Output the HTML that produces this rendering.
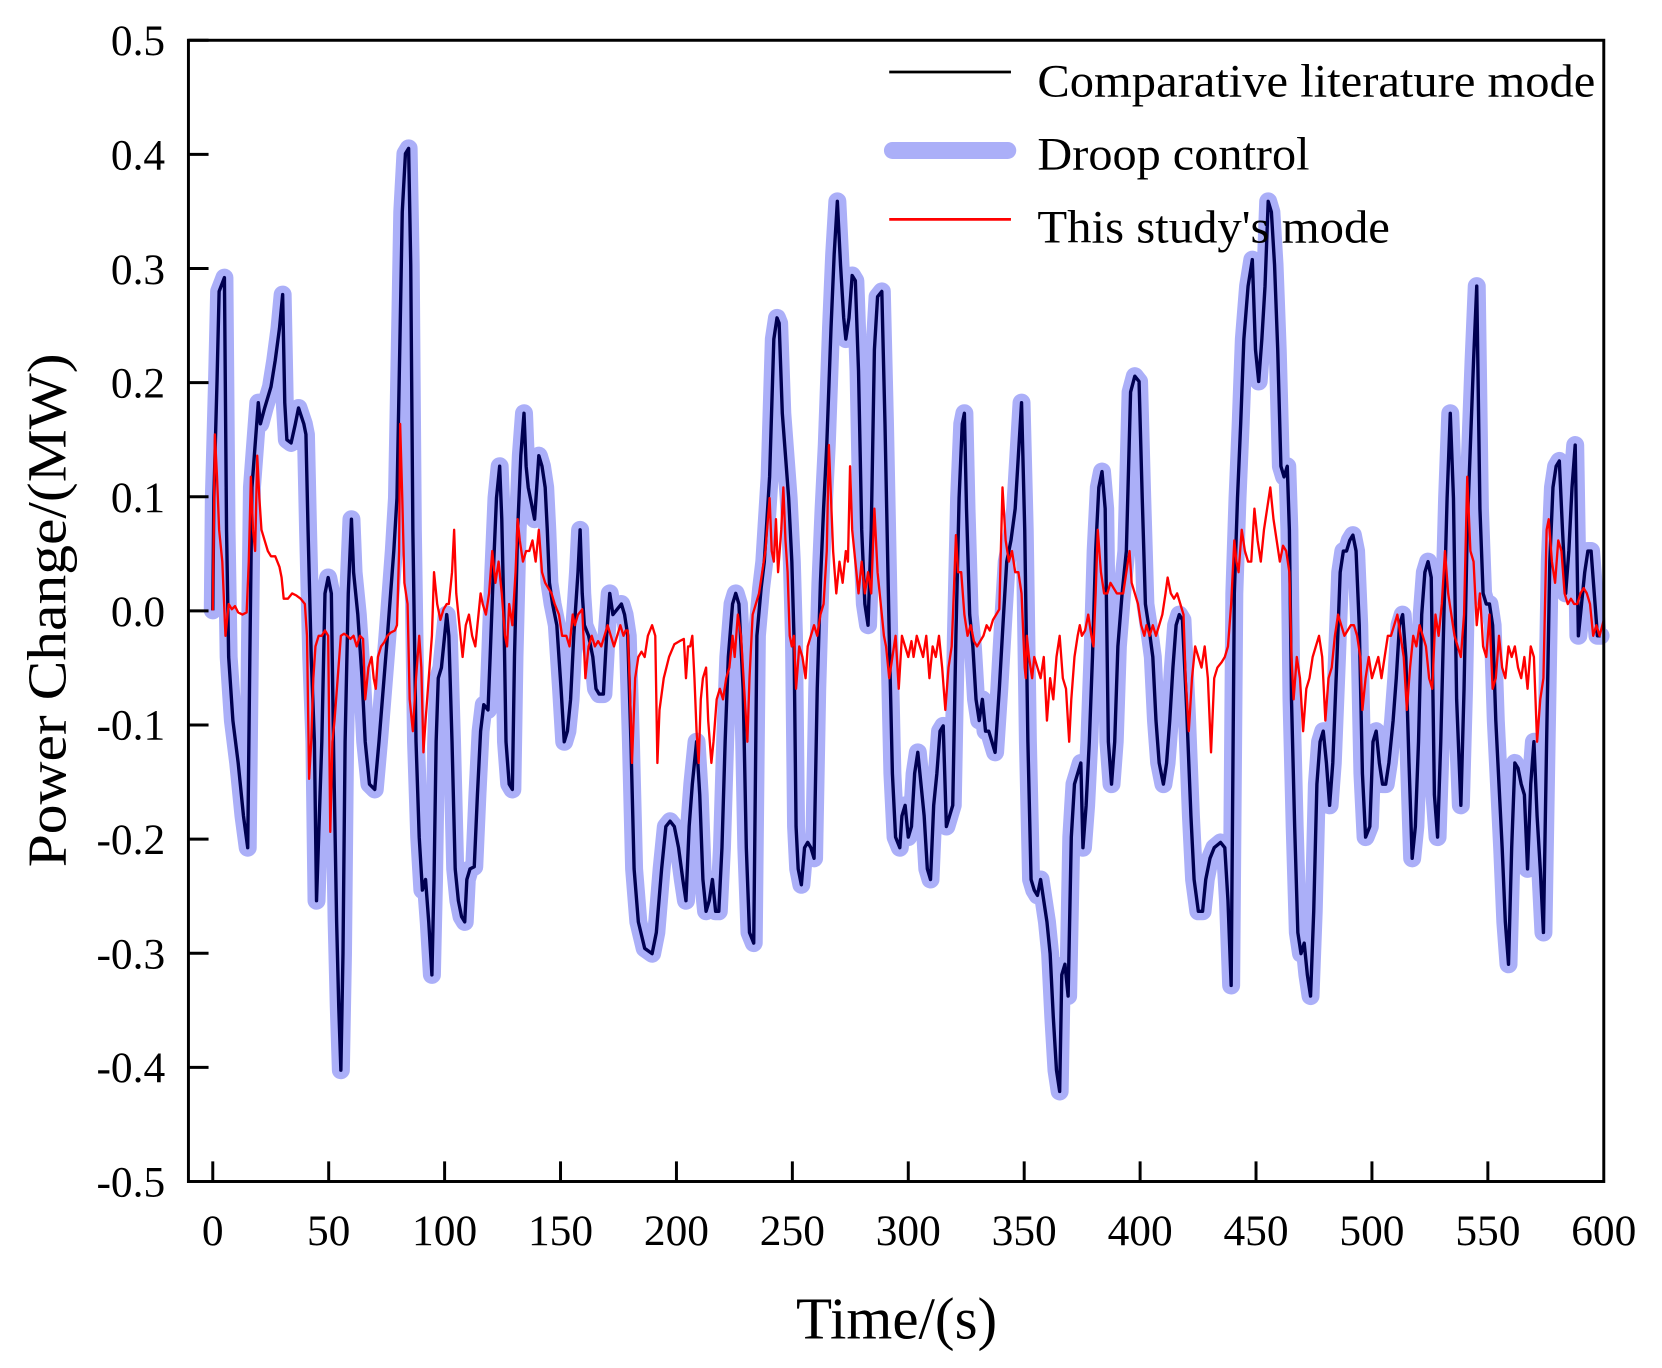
<!DOCTYPE html>
<html><head><meta charset="utf-8"><style>html,body{margin:0;padding:0;background:#fff}svg{display:block}</style></head>
<body>
<svg width="1662" height="1368" viewBox="0 0 1570 1291" preserveAspectRatio="none" xmlns="http://www.w3.org/2000/svg" font-family="Liberation Serif, serif">
<rect width="1570" height="1291" fill="#fff"/>
<polyline fill="none" stroke="#abaff8" stroke-width="17" stroke-linejoin="round" stroke-linecap="round" points="201,576 202,470 205,360 207,275 212,262 214,500 216,620 220,680 225,720 230,770 234,800 236,620 238,460 241,420 244,380 246,400 250,385 256,365 260,340 264,310 267,278 269,380 271,415 275,418 279,400 282,385 287,400 289,410 291,500 294,620 297,700 299,850 301,790 304,700 307,560 310,545 313,560 315,700 318,870 320,950 322,1010 324,900 326,700 329,560 332,490 334,540 338,580 342,640 345,700 349,740 354,745 358,700 362,650 366,600 369,560 372,520 375,470 378,310 380,200 383,145 386,140 388,250 390,500 393,700 396,790 399,840 402,830 405,870 408,920 410,830 412,700 414,640 417,630 420,600 422,580 424,600 427,700 430,820 433,850 436,865 439,870 441,830 444,820 448,818 451,750 454,690 457,665 461,670 463,620 466,540 469,470 472,440 474,490 476,580 478,700 481,740 484,745 486,620 489,500 492,430 495,390 497,440 499,460 501,470 505,490 509,430 512,440 515,460 517,500 519,550 522,570 526,590 530,650 533,700 536,690 539,660 542,600 546,540 548,500 550,560 552,590 556,600 560,620 563,650 566,655 570,655 573,600 576,560 579,580 583,575 587,570 590,580 593,600 596,700 599,820 603,870 609,895 616,900 620,880 625,820 629,780 633,775 637,780 641,800 645,830 648,850 651,780 654,740 658,700 661,750 664,830 667,860 670,850 673,830 676,860 679,860 682,800 685,700 688,620 692,570 695,560 698,570 702,650 705,800 708,880 712,890 715,600 719,555 722,530 727,450 731,320 734,300 736,305 739,390 742,430 745,470 748,530 750,600 752,780 754,820 757,835 760,800 763,795 766,800 769,810 772,650 775,550 778,480 781,420 785,310 788,240 791,190 794,250 797,300 799,320 802,300 805,260 808,265 811,350 814,500 817,570 820,590 823,500 826,330 829,280 833,275 836,400 840,600 843,730 846,790 850,800 852,770 855,760 858,790 861,780 864,730 867,710 870,740 873,770 876,820 879,830 882,760 885,730 888,690 891,685 894,780 897,770 900,760 903,600 906,470 909,400 911,390 913,480 916,580 919,610 922,660 925,680 928,660 931,690 934,690 937,700 940,710 944,650 948,580 951,530 955,510 959,480 962,430 965,380 968,500 971,700 974,830 977,840 980,845 983,830 986,850 989,870 992,900 995,960 998,1010 1001,1030 1003,920 1006,910 1009,940 1012,790 1015,740 1018,730 1021,720 1023,800 1026,760 1029,700 1032,620 1035,520 1038,460 1041,445 1044,480 1047,700 1050,740 1053,700 1056,610 1060,560 1064,520 1068,370 1072,355 1076,360 1079,470 1082,570 1085,590 1089,620 1092,680 1095,720 1099,740 1102,720 1105,680 1108,630 1111,590 1114,580 1117,585 1121,670 1125,770 1128,830 1132,860 1136,860 1139,830 1143,810 1147,800 1153,795 1157,800 1160,850 1163,930 1166,560 1169,470 1172,400 1175,320 1179,270 1183,245 1186,330 1189,360 1192,320 1195,270 1198,190 1201,200 1204,250 1207,330 1210,440 1213,450 1216,440 1218,500 1220,660 1223,780 1226,880 1229,900 1232,890 1235,920 1238,940 1241,860 1244,740 1247,700 1250,690 1253,720 1256,760 1259,720 1263,620 1266,540 1269,520 1272,520 1275,510 1278,505 1281,520 1284,590 1287,730 1290,790 1294,780 1297,700 1300,690 1303,720 1306,740 1309,740 1312,720 1316,680 1319,640 1322,590 1325,580 1328,620 1331,720 1334,810 1337,780 1340,700 1343,580 1346,540 1349,530 1352,545 1355,750 1358,790 1361,700 1364,580 1367,470 1370,390 1373,470 1376,660 1380,760 1383,650 1386,500 1389,420 1392,340 1395,270 1398,480 1401,560 1404,570 1407,570 1410,590 1413,680 1416,740 1419,800 1422,870 1425,910 1428,800 1431,720 1434,725 1437,740 1440,750 1443,820 1446,740 1449,700 1452,770 1455,820 1458,880 1461,700 1464,530 1467,460 1470,440 1473,435 1476,500 1479,560 1482,520 1485,460 1488,420 1491,600 1494,570 1497,540 1500,520 1503,520 1506,560 1509,600 1512,600"/>
<polyline fill="none" stroke="#000050" stroke-width="3.2" stroke-linejoin="round" points="201,576 202,470 205,360 207,275 212,262 214,500 216,620 220,680 225,720 230,770 234,800 236,620 238,460 241,420 244,380 246,400 250,385 256,365 260,340 264,310 267,278 269,380 271,415 275,418 279,400 282,385 287,400 289,410 291,500 294,620 297,700 299,850 301,790 304,700 307,560 310,545 313,560 315,700 318,870 320,950 322,1010 324,900 326,700 329,560 332,490 334,540 338,580 342,640 345,700 349,740 354,745 358,700 362,650 366,600 369,560 372,520 375,470 378,310 380,200 383,145 386,140 388,250 390,500 393,700 396,790 399,840 402,830 405,870 408,920 410,830 412,700 414,640 417,630 420,600 422,580 424,600 427,700 430,820 433,850 436,865 439,870 441,830 444,820 448,818 451,750 454,690 457,665 461,670 463,620 466,540 469,470 472,440 474,490 476,580 478,700 481,740 484,745 486,620 489,500 492,430 495,390 497,440 499,460 501,470 505,490 509,430 512,440 515,460 517,500 519,550 522,570 526,590 530,650 533,700 536,690 539,660 542,600 546,540 548,500 550,560 552,590 556,600 560,620 563,650 566,655 570,655 573,600 576,560 579,580 583,575 587,570 590,580 593,600 596,700 599,820 603,870 609,895 616,900 620,880 625,820 629,780 633,775 637,780 641,800 645,830 648,850 651,780 654,740 658,700 661,750 664,830 667,860 670,850 673,830 676,860 679,860 682,800 685,700 688,620 692,570 695,560 698,570 702,650 705,800 708,880 712,890 715,600 719,555 722,530 727,450 731,320 734,300 736,305 739,390 742,430 745,470 748,530 750,600 752,780 754,820 757,835 760,800 763,795 766,800 769,810 772,650 775,550 778,480 781,420 785,310 788,240 791,190 794,250 797,300 799,320 802,300 805,260 808,265 811,350 814,500 817,570 820,590 823,500 826,330 829,280 833,275 836,400 840,600 843,730 846,790 850,800 852,770 855,760 858,790 861,780 864,730 867,710 870,740 873,770 876,820 879,830 882,760 885,730 888,690 891,685 894,780 897,770 900,760 903,600 906,470 909,400 911,390 913,480 916,580 919,610 922,660 925,680 928,660 931,690 934,690 937,700 940,710 944,650 948,580 951,530 955,510 959,480 962,430 965,380 968,500 971,700 974,830 977,840 980,845 983,830 986,850 989,870 992,900 995,960 998,1010 1001,1030 1003,920 1006,910 1009,940 1012,790 1015,740 1018,730 1021,720 1023,800 1026,760 1029,700 1032,620 1035,520 1038,460 1041,445 1044,480 1047,700 1050,740 1053,700 1056,610 1060,560 1064,520 1068,370 1072,355 1076,360 1079,470 1082,570 1085,590 1089,620 1092,680 1095,720 1099,740 1102,720 1105,680 1108,630 1111,590 1114,580 1117,585 1121,670 1125,770 1128,830 1132,860 1136,860 1139,830 1143,810 1147,800 1153,795 1157,800 1160,850 1163,930 1166,560 1169,470 1172,400 1175,320 1179,270 1183,245 1186,330 1189,360 1192,320 1195,270 1198,190 1201,200 1204,250 1207,330 1210,440 1213,450 1216,440 1218,500 1220,660 1223,780 1226,880 1229,900 1232,890 1235,920 1238,940 1241,860 1244,740 1247,700 1250,690 1253,720 1256,760 1259,720 1263,620 1266,540 1269,520 1272,520 1275,510 1278,505 1281,520 1284,590 1287,730 1290,790 1294,780 1297,700 1300,690 1303,720 1306,740 1309,740 1312,720 1316,680 1319,640 1322,590 1325,580 1328,620 1331,720 1334,810 1337,780 1340,700 1343,580 1346,540 1349,530 1352,545 1355,750 1358,790 1361,700 1364,580 1367,470 1370,390 1373,470 1376,660 1380,760 1383,650 1386,500 1389,420 1392,340 1395,270 1398,480 1401,560 1404,570 1407,570 1410,590 1413,680 1416,740 1419,800 1422,870 1425,910 1428,800 1431,720 1434,725 1437,740 1440,750 1443,820 1446,740 1449,700 1452,770 1455,820 1458,880 1461,700 1464,530 1467,460 1470,440 1473,435 1476,500 1479,560 1482,520 1485,460 1488,420 1491,600 1494,570 1497,540 1500,520 1503,520 1506,560 1509,600 1512,600"/>
<polyline fill="none" stroke="#ff0000" stroke-width="2.2" stroke-linejoin="round" points="201,576 203,410 205,450 207,500 210,530 213,600 216,570 219,575 222,572 225,578 229,580 233,578 235,530 237,450 239,500 241,520 243,430 245,470 247,500 250,510 253,520 256,525 260,525 264,535 266,545 268,565 272,565 276,560 280,562 284,565 288,570 290,600 292,735 294,700 296,640 298,610 301,600 304,600 307,595 310,600 312,785 314,700 316,680 319,640 322,600 325,598 328,600 331,603 334,600 337,610 340,600 343,603 345,660 348,630 351,620 353,640 355,650 357,620 360,610 363,606 366,600 369,597 373,595 375,590 377,520 378,400 380,470 382,550 385,570 387,660 390,690 393,640 396,600 398,630 400,710 402,680 405,640 408,600 410,540 413,570 416,585 419,575 422,570 424,570 427,540 429,500 431,560 433,580 435,600 437,620 440,590 443,580 446,600 449,610 452,580 454,560 456,570 459,580 462,560 465,520 468,550 471,530 474,560 477,600 479,610 481,570 484,590 487,540 489,490 491,510 494,530 497,520 500,520 503,510 506,530 509,500 512,540 515,550 518,555 521,560 524,570 528,580 531,600 535,600 538,610 541,580 543,590 546,580 550,575 553,640 556,610 559,600 562,610 565,605 568,610 571,600 574,590 577,600 580,610 583,600 586,590 589,600 591,595 593,595 595,650 597,720 600,640 603,620 606,615 609,620 612,600 616,590 619,600 621,720 623,670 627,640 632,620 637,608 642,605 646,603 648,640 650,610 652,610 654,600 656,640 658,690 660,720 662,660 664,640 667,630 669,680 672,720 674,700 677,660 680,650 683,660 686,640 689,630 692,600 694,620 697,580 700,600 703,650 706,700 708,640 711,580 714,570 717,560 720,540 723,520 727,470 729,520 731,530 733,490 735,540 738,500 740,460 742,510 744,540 746,600 748,610 750,600 752,650 755,610 758,620 761,640 763,610 766,600 769,590 772,600 775,580 778,570 781,520 783,420 785,470 787,520 790,560 793,530 796,550 799,520 801,530 803,440 805,500 808,530 811,560 814,530 817,560 820,540 823,560 826,480 829,540 832,570 835,600 837,610 840,640 843,620 846,600 849,650 852,600 855,610 858,620 861,605 863,620 866,600 869,610 872,620 875,600 878,640 881,610 884,620 887,600 890,630 893,670 896,630 899,610 901,560 903,505 905,540 908,540 911,580 914,600 917,590 920,605 923,610 926,605 929,600 932,590 935,595 938,585 941,580 944,575 947,460 950,510 953,530 956,520 959,540 962,540 965,560 968,630 969,640 970,600 972,620 975,640 977,620 980,630 983,640 986,620 989,680 992,640 995,660 998,620 1001,600 1004,640 1007,650 1010,700 1012,660 1015,620 1018,600 1020,590 1022,600 1025,595 1028,580 1031,600 1033,610 1035,560 1037,500 1040,540 1043,560 1046,560 1049,550 1052,555 1055,560 1058,560 1061,560 1064,540 1067,520 1069,550 1072,560 1075,570 1078,590 1081,600 1083,590 1086,600 1089,590 1092,600 1095,590 1098,580 1101,560 1103,545 1106,560 1109,565 1112,560 1115,570 1118,580 1120,640 1123,690 1126,640 1129,610 1132,620 1135,630 1138,610 1141,640 1144,710 1147,640 1150,630 1154,625 1157,620 1160,610 1163,570 1166,510 1168,530 1170,540 1173,500 1176,520 1179,530 1182,530 1185,480 1188,510 1191,530 1194,500 1197,480 1200,460 1203,490 1206,510 1209,530 1212,515 1215,520 1218,540 1220,620 1222,660 1225,620 1228,640 1231,690 1234,650 1237,640 1240,620 1243,610 1246,600 1249,620 1252,680 1255,640 1258,630 1261,600 1264,580 1267,590 1270,600 1273,595 1276,590 1279,590 1282,600 1285,620 1287,670 1290,640 1293,620 1296,640 1299,630 1302,620 1305,640 1308,620 1311,600 1314,600 1317,590 1320,580 1323,600 1326,620 1329,670 1332,630 1335,600 1338,610 1341,590 1344,600 1347,610 1350,640 1353,650 1356,580 1359,600 1362,570 1365,520 1368,560 1371,580 1374,600 1377,610 1380,620 1383,580 1386,450 1389,520 1392,530 1395,590 1398,560 1401,610 1404,620 1407,580 1410,650 1413,640 1416,600 1419,630 1422,640 1425,610 1428,620 1431,610 1434,630 1437,640 1440,620 1443,650 1446,610 1449,620 1452,700 1455,660 1458,640 1461,500 1463,490 1466,530 1469,550 1472,510 1475,520 1478,560 1481,570 1484,565 1487,570 1490,570 1493,560 1496,555 1499,560 1502,570 1505,600 1508,590 1511,600 1515,585"/>
<rect x="178" y="38" width="1337" height="1077" fill="none" stroke="#000" stroke-width="2.8"/>
<g stroke="#000" stroke-width="2.8">
<path d="M178,38h19M178,145.7h19M178,253.4h19M178,361.1h19M178,468.8h19M178,576.5h19M178,684.2h19M178,791.9h19M178,899.6h19M178,1007.3h19"/>
<path d="M201,1115v-19M310.5,1115v-19M420,1115v-19M529.5,1115v-19M639,1115v-19M748.5,1115v-19M858,1115v-19M967.5,1115v-19M1077,1115v-19M1186.5,1115v-19M1296,1115v-19M1405.5,1115v-19"/>
</g>
<g font-size="41" text-anchor="end" fill="#000">
<text x="156" y="52">0.5</text><text x="156" y="160">0.4</text><text x="156" y="268">0.3</text><text x="156" y="375">0.2</text><text x="156" y="483">0.1</text><text x="156" y="591">0.0</text><text x="156" y="698">-0.1</text><text x="156" y="806">-0.2</text><text x="156" y="914">-0.3</text><text x="156" y="1021">-0.4</text><text x="156" y="1129">-0.5</text>
</g>
<g font-size="41" text-anchor="middle" fill="#000">
<text x="201" y="1175">0</text><text x="310.5" y="1175">50</text><text x="420" y="1175">100</text><text x="529.5" y="1175">150</text><text x="639" y="1175">200</text><text x="748.5" y="1175">250</text><text x="858" y="1175">300</text><text x="967.5" y="1175">350</text><text x="1077" y="1175">400</text><text x="1186.5" y="1175">450</text><text x="1296" y="1175">500</text><text x="1405.5" y="1175">550</text><text x="1515" y="1175">600</text>
</g>
<text x="847" y="1263" font-size="56" text-anchor="middle" textLength="190" lengthAdjust="spacingAndGlyphs">Time/(s)</text>
<text transform="translate(62,576) rotate(-90)" font-size="52" text-anchor="middle" textLength="485" lengthAdjust="spacingAndGlyphs">Power Change/(MW)</text>
<line x1="840" y1="68" x2="955" y2="68" stroke="#000" stroke-width="2.6"/>
<line x1="843" y1="142" x2="952" y2="142" stroke="#abaff8" stroke-width="16" stroke-linecap="round"/>
<line x1="840" y1="207" x2="955" y2="207" stroke="#ff0000" stroke-width="2.6"/>
<g font-size="44" fill="#000">
<text x="980" y="91" textLength="527" lengthAdjust="spacingAndGlyphs">Comparative literature mode</text>
<text x="980" y="160" textLength="257" lengthAdjust="spacingAndGlyphs">Droop control</text>
<text x="980" y="229" textLength="333" lengthAdjust="spacingAndGlyphs">This study's mode</text>
</g>
</svg>
</body></html>
